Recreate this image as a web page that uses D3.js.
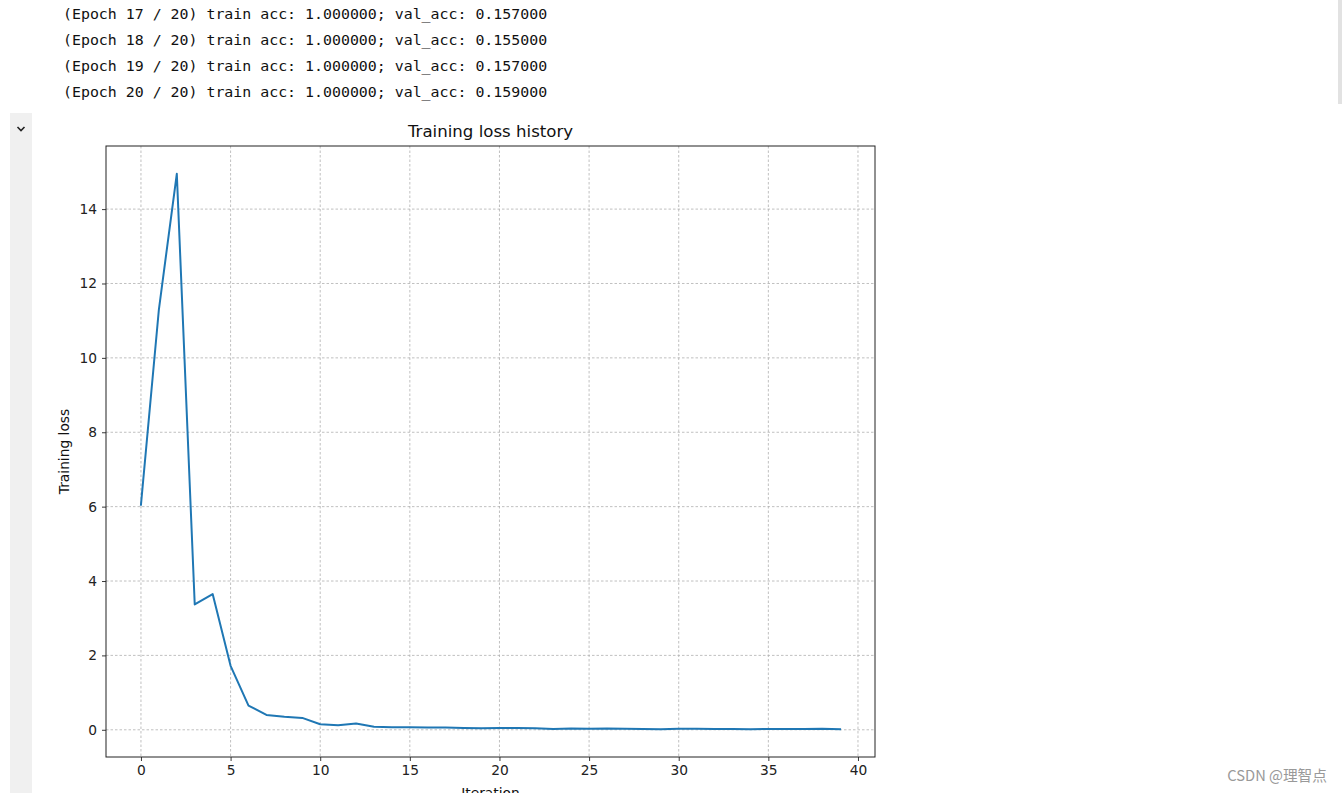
<!DOCTYPE html>
<html><head><meta charset="utf-8">
<script src="https://cdn.jsdelivr.net/npm/d3@7"></script>
<style>
html,body{margin:0;padding:0;background:#fff;overflow:hidden;}
svg{display:block;}
</style></head>
<body>
<svg id="c" width="1342" height="793"></svg>
<script>
const logLines = [
  "(Epoch 17 / 20) train acc: 1.000000; val_acc: 0.157000",
  "(Epoch 18 / 20) train acc: 1.000000; val_acc: 0.155000",
  "(Epoch 19 / 20) train acc: 1.000000; val_acc: 0.157000",
  "(Epoch 20 / 20) train acc: 1.000000; val_acc: 0.159000"
];
const lossValues = [6.05, 11.3, 14.95, 3.37, 3.65, 1.72, 0.65, 0.40, 0.35, 0.32,
  0.15, 0.12, 0.17, 0.08, 0.07, 0.07, 0.06, 0.06, 0.05, 0.04,
  0.045, 0.045, 0.04, 0.02, 0.035, 0.03, 0.035, 0.025, 0.02, 0.015,
  0.025, 0.025, 0.02, 0.02, 0.015, 0.02, 0.02, 0.02, 0.025, 0.015];
const xTicks = [0, 5, 10, 15, 20, 25, 30, 35, 40];
const yTicks = [0, 2, 4, 6, 8, 10, 12, 14];
const titleText = "Training loss history";
const xLabel = "Iteration";
const yLabel = "Training loss";
const watermark = "CSDN @理智点";

const svg = d3.select("#c");

// notebook chrome
svg.append("rect").attr("x",10).attr("y",113).attr("width",22).attr("height",700).attr("fill","#f0f0f0");
svg.append("path").attr("d","M17.5,127 L21,130.5 L24.5,127").attr("fill","none").attr("stroke","#222").attr("stroke-width",1.6);
svg.append("rect").attr("x",1338).attr("y",0).attr("width",4).attr("height",104).attr("fill","#e2e2e2");

svg.selectAll("text.log").data(logLines).join("text")
  .attr("class","log")
  .attr("x",63).attr("y",(d,i)=>19+i*26)
  .attr("font-family","'DejaVu Sans Mono', monospace").attr("font-size",14.9)
  .attr("fill","#111").attr("xml:space","preserve").text(d=>d);

// chart
const L=106, R=875, T=146, B=757;
const n = lossValues.length;
const xpad = (n-1)*0.05;
const ymin = d3.min(lossValues), ymax = d3.max(lossValues);
const ypad = (ymax-ymin)*0.05;
const x = d3.scaleLinear().domain([-xpad, n-1+xpad]).range([L,R]);
const y = d3.scaleLinear().domain([ymin-ypad, ymax+ypad]).range([B,T]);

const font = "'DejaVu Sans', sans-serif";
const fs = 13.8;
// grid
const g = svg.append("g");
g.selectAll("line.vg").data(xTicks.filter(d=>x(d)<R)).join("line")
  .attr("x1",d=>x(d)).attr("x2",d=>x(d)).attr("y1",T).attr("y2",B)
  .attr("stroke","#b0b0b0").attr("stroke-width",0.8).attr("stroke-dasharray","2.5,2");
g.selectAll("line.hg").data(yTicks).join("line")
  .attr("x1",L).attr("x2",R).attr("y1",d=>y(d)).attr("y2",d=>y(d))
  .attr("stroke","#b0b0b0").attr("stroke-width",0.8).attr("stroke-dasharray","2.5,2");

// line
svg.append("path").datum(lossValues)
  .attr("d", d3.line().x((d,i)=>x(i)).y(d=>y(d)))
  .attr("fill","none").attr("stroke","#1f77b4").attr("stroke-width",2)
  .attr("stroke-linejoin","round").attr("stroke-linecap","square");

// axes
const xa = svg.append("g").attr("transform",`translate(0,${B})`)
  .call(d3.axisBottom(x).tickValues(xTicks).tickSize(4).tickPadding(4).tickFormat(d3.format("d")));
const ya = svg.append("g").attr("transform",`translate(${L},0)`)
  .call(d3.axisLeft(y).tickValues(yTicks).tickSize(4).tickPadding(5).tickFormat(d3.format("d")));
[xa,ya].forEach(a=>{
  a.select(".domain").remove();
  a.selectAll("line").attr("stroke","#222").attr("stroke-width",0.9);
  a.selectAll("text").attr("font-family",font).attr("font-size",fs).attr("fill","#222");
});

svg.append("rect").attr("x",L).attr("y",T).attr("width",R-L).attr("height",B-T)
  .attr("fill","none").attr("stroke","#222").attr("stroke-width",1);

svg.append("text").attr("x",(L+R)/2).attr("y",T-9).attr("text-anchor","middle")
  .attr("font-family",font).attr("font-size",16.6).attr("fill","#111").text(titleText);
svg.append("text").attr("x",(L+R)/2).attr("y",B+41).attr("text-anchor","middle")
  .attr("font-family",font).attr("font-size",fs).attr("fill","#111").text(xLabel);
svg.append("text").attr("transform",`translate(69,${(T+B)/2}) rotate(-90)`).attr("text-anchor","middle")
  .attr("font-family",font).attr("font-size",fs).attr("fill","#111").text(yLabel);

svg.append("text").attr("x",1327).attr("y",781).attr("text-anchor","end")
  .attr("font-family","'Noto Sans CJK SC', sans-serif").attr("font-size",14.7).attr("fill","#999").text(watermark);
</script>
</body></html>
